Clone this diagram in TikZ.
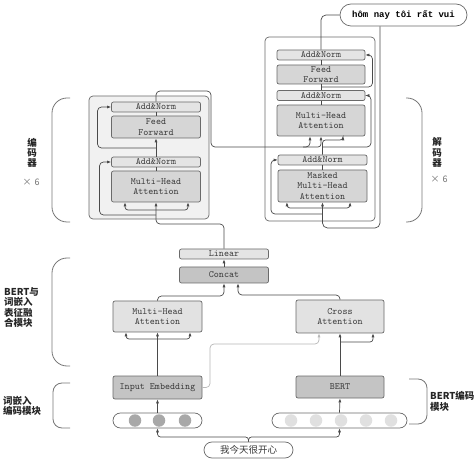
\documentclass[tikz,border=0pt]{standalone}
\usepackage{fontspec}
\usetikzlibrary{arrows.meta}
\newfontfamily\mono{Latin Modern Mono}
\newfontfamily\monob{Liberation Mono}
\newfontfamily\cjk{Noto Sans CJK SC}
\definecolor{bord}{HTML}{6A6A6A}
\definecolor{lnc}{HTML}{4A4A4A}
\definecolor{lnl}{HTML}{B8B8B8}
\definecolor{fA}{HTML}{E4E4E4}
\definecolor{fB}{HTML}{D6D6D6}
\definecolor{fC}{HTML}{C4C4C4}
\definecolor{fD}{HTML}{E2E2E2}
\definecolor{fE}{HTML}{F1F1F1}
\definecolor{dotA}{HTML}{A8A8A8}
\definecolor{dotB}{HTML}{E0E0E0}
\definecolor{txt}{HTML}{383838}
\definecolor{brcc}{HTML}{777777}
\begin{document}
\begin{tikzpicture}[x=1pt,y=-1pt,
  box/.style={draw=bord, line width=0.7pt, rounded corners=2pt, inner sep=0pt,
    font=\mono\fontsize{9.6}{10.5}\selectfont, text=txt, align=center},
  an/.style={box, fill=fA, minimum height=10pt},
  sub/.style={box, fill=fB},
  dk/.style={box, fill=fC},
  lt/.style={box, fill=fD},
  outer/.style={draw=bord, line width=0.7pt, rounded corners=4pt, inner sep=0pt},
  pill/.style={draw=bord, line width=0.7pt, inner sep=0pt, fill=white},
  dotL/.style={circle, fill=dotA, minimum size=12.5pt, inner sep=0pt},
  dotR/.style={circle, fill=dotB, minimum size=12.5pt, inner sep=0pt},
  ln/.style={draw=lnc, line width=0.7pt},
  arr/.style={ln, -{Latex[length=4pt,width=3pt]}},
  farr/.style={ln, {Latex[length=4pt,width=3pt]}-{Latex[length=4pt,width=3pt]}},
  arrL/.style={draw=lnl, line width=0.7pt, -{Latex[length=4pt,width=3pt]}},
  brc/.style={draw=brcc, line width=0.8pt, rounded corners=15pt},
  brcs/.style={draw=brcc, line width=0.8pt, rounded corners=9pt},
  lab/.style={font=\cjk\bfseries\fontsize{9.5}{10.3}\selectfont, text=black!85, inner sep=0pt},
  tms/.style={font=\cjk\fontsize{9}{10}\selectfont, text=black!55, inner sep=0pt}
]
\useasboundingbox[fill=white] (0,0) rectangle (474,462);

% ---------- encoder ----------
\node[outer, fill=fE, minimum width=120pt, minimum height=123pt] (enc) at (149,157.5) {};
\node[an, minimum width=89pt] (eAN1) at (156,107) {Add\&Norm};
\node[sub, minimum width=89pt, minimum height=22pt] (eFF) at (156,127) {Feed\\Forward};
\node[an, minimum width=89pt] (eAN2) at (156,162) {Add\&Norm};
\node[sub, minimum width=89pt, minimum height=31pt] (eMHA) at (156,186.5) {Multi-Head\\Attention};

% ---------- decoder ----------
\node[outer, fill=white, minimum width=110pt, minimum height=184pt] (dec) at (320,129) {};
\node[an, minimum width=88pt] (dAN1) at (321,55) {Add\&Norm};
\node[sub, minimum width=88pt, minimum height=19pt] (dFF) at (321,74.5) {Feed\\Forward};
\node[an, minimum width=88pt] (dAN2) at (321,95.5) {Add\&Norm};
\node[sub, minimum width=88pt, minimum height=31pt] (dMHA) at (321,120.5) {Multi-Head\\Attention};
\node[an, minimum width=89pt] (dAN3) at (322.5,160) {Add\&Norm};
\node[sub, minimum width=89pt, minimum height=32pt] (dMMHA) at (322.5,186) {Masked\\Multi-Head\\Attention};

% ---------- output bubble ----------
\node[pill, rounded corners=11pt, minimum width=127pt, minimum height=22pt,
  font=\monob\bfseries\fontsize{9}{10}\selectfont] (out) at (403.5,15) {hôm nay tôi rất vui};

% ---------- fusion ----------
\node[an, minimum width=89pt] (lin) at (224,254) {Linear};
\node[dk, minimum width=89pt, minimum height=16pt] (concat) at (224,275) {Concat};
\node[lt, minimum width=89pt, minimum height=31pt] (lMHA) at (157.5,316.5) {Multi-Head\\Attention};
\node[lt, minimum width=88pt, minimum height=33pt] (cross) at (340,316.5) {Cross\\Attention};
\node[dk, minimum width=89pt, minimum height=23pt] (emb) at (157.5,387.5) {Input Embedding};
\node[dk, minimum width=88pt, minimum height=22pt] (bert) at (340,387) {BERT};

% ---------- token pills ----------
\node[pill, rounded corners=7.5pt, minimum width=89pt, minimum height=15pt] (tokL) at (157.5,420.5) {};
\node[dotL] (l1) at (135,420.5) {};
\node[dotL] (l2) at (159,420.5) {};
\node[dotL] (l3) at (185,420.5) {};
\node[pill, rounded corners=7.5pt, minimum width=135pt, minimum height=15pt] (tokR) at (339.5,420.5) {};
\node[dotR] (r1) at (291,420.5) {};
\node[dotR] (r2) at (316,420.5) {};
\node[dotR] (r3) at (341,420.5) {};
\node[dotR] (r4) at (366,420.5) {};
\node[dotR] (r5) at (391,420.5) {};
\node[pill, rounded corners=8pt, minimum width=89pt, minimum height=16pt,
  font=\cjk\fontsize{9.5}{10}\selectfont, text=txt] (src) at (248.5,450) {我今天很开心};

% ---------- encoder wiring ----------
\draw[arr, rounded corners=4pt] (lin.north) |- (156,224) -- (eMHA.south);
\draw[farr, rounded corners=3pt] ([xshift=-31pt]eMHA.south) |- (156,210) -| ([xshift=32pt]eMHA.south);
\draw[arr, rounded corners=4pt] (156,215) -| (99.5,162) -- (eAN2.west);
\draw[ln] (eMHA.north) -- (eAN2.south);
\draw[arr] (eAN2.north) -- (eFF.south);
\draw[arr, rounded corners=4pt] (156,148) -| (97.5,107) -- (eAN1.west);
\draw[ln] (eFF.north) -- (eAN1.south);
\draw[arr, rounded corners=4pt] (eAN1.north) |- (211,91) |- (310,147) -- ([xshift=-11pt]dMHA.south);
\draw[arr, rounded corners=3pt] (303,147) -| (dMHA.south);

% ---------- decoder wiring ----------
\draw[arr, rounded corners=5pt] ([xshift=-23.5pt]out.south) |- (322.5,228) -- (dMMHA.south);
\draw[farr, rounded corners=3pt] ([xshift=-35.5pt]dMMHA.south) |- (322.5,208) -| ([xshift=27.5pt]dMMHA.south);
\draw[arr, rounded corners=4pt] (322.5,214) -| (271,160) -- (dAN3.west);
\draw[ln] (dMMHA.north) -- (dAN3.south);
\draw[arr, rounded corners=3pt] (dAN3.north) |- (343,140) -- ([xshift=22pt]dMHA.south);
\draw[arr, rounded corners=4pt] (322.5,147) -| (371,95.5) -- (dAN2.east);
\draw[ln] (dMHA.north) -- (dAN2.south);
\draw[ln] (dAN2.north) -- (dFF.south);
\draw[arr, rounded corners=4pt] (321,87) -| (372.5,55) -- (dAN1.east);
\draw[ln] (dFF.north) -- (dAN1.south);
\draw[ln, rounded corners=5pt] (dAN1.north) |- (out.west);

% ---------- fusion wiring ----------
\draw[arr] (concat.north) -- (lin.south);
\draw[arr, rounded corners=4pt] (lMHA.north) |- (224,296) -- (concat.south);
\draw[arr, rounded corners=4pt] (cross.north) |- (238,295) -- ([xshift=14pt]concat.south);
\draw[arr] (emb.north) -- (lMHA.south);
\draw[farr, rounded corners=3pt] ([xshift=-31.5pt]lMHA.south) |- (157.5,339) -| ([xshift=32.5pt]lMHA.south);
\draw[arr] (bert.north) -- (cross.south);
\draw[arr, rounded corners=3pt] (340,342) -| ([xshift=33pt]cross.south);
\draw[arrL, rounded corners=4pt] (emb.east) -| (210,344) -| ([xshift=-21pt]cross.south);
\draw[arr] (tokL.north) -- (emb.south);
\draw[arr] (tokR.north) -- (bert.south);
\draw[arr, rounded corners=3pt] (src.north) -- (248.5,437) -| (tokL.south);
\draw[arr, rounded corners=3pt] (src.north) -- (248.5,437) -| (tokR.south);

% ---------- braces ----------
\draw[brc] (70,98) -- (52,98) -- (52,222) -- (70,222);
\draw[brc] (406,98) -- (422,98) -- (422,222) -- (406,222);
\draw[brc] (70,258) -- (52,258) -- (52,366) -- (70,366);
\draw[brcs] (70,383) -- (53,383) -- (53,428) -- (70,428);
\draw[brcs] (409,379) -- (427,379) -- (427,424) -- (409,424);

% ---------- labels ----------
\node[lab, align=center] (encL) at (32,153) {编\\码\\器};
\node[tms] (encX) at (31,182) {×\,\,6};
\node[lab, align=center] (decL) at (437,152.5) {解\\码\\器};
\node[tms] (decX) at (439,179) {×\,\,6};
\node[lab, align=left, anchor=west] (fusL) at (4,307.5) {BERT与\\词嵌入\\表征融\\合模块};
\node[lab, align=left, anchor=west] (embL) at (3,406) {词嵌入\\编码模块};
\node[lab, align=left, anchor=west] (bertL) at (430,401.5) {BERT编码\\模块};
\end{tikzpicture}
\end{document}
